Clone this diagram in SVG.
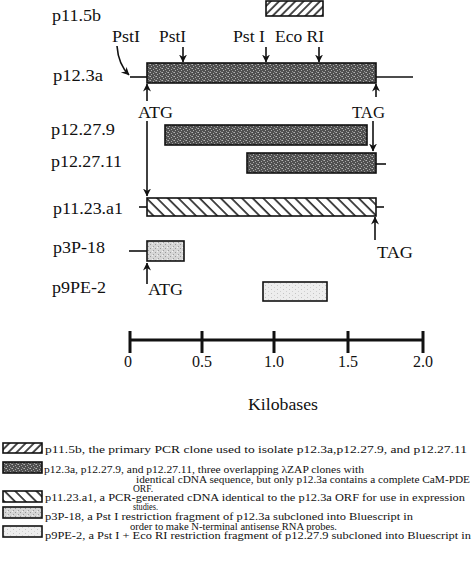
<svg xmlns="http://www.w3.org/2000/svg" width="474" height="572" viewBox="0 0 474 572">
<style>
.lbl{font-family:"Liberation Serif","Times New Roman",serif;font-size:16px;fill:#111}
.leg{font-family:"Liberation Serif","Times New Roman",serif;font-size:9.5px;fill:#111}
.bar{stroke:#111;stroke-width:1.6}
.ln{stroke:#111;stroke-width:1.6;fill:none}
.ax{stroke:#111;stroke-width:3;fill:none}
</style>
<defs>
<pattern id="dark" width="6" height="4" patternUnits="userSpaceOnUse">
<rect width="6" height="4" fill="#505050"/>
<rect x="0" y="0" width="1" height="1" fill="#b5b5b5"/>
<rect x="3" y="1" width="1" height="1" fill="#a5a5a5"/>
<rect x="4" y="3" width="1" height="1" fill="#9a9a9a"/>
<rect x="1" y="2" width="1" height="1" fill="#aaaaaa"/>
<rect x="5" y="0" width="1" height="1" fill="#8a8a8a"/>
</pattern>
<pattern id="light" width="5" height="4" patternUnits="userSpaceOnUse">
<rect width="5" height="4" fill="#d6d6d6"/>
<rect x="0" y="0" width="1" height="1" fill="#999"/>
<rect x="3" y="2" width="1" height="1" fill="#a0a0a0"/>
<rect x="2" y="3" width="1" height="1" fill="#f2f2f2"/>
</pattern>
<pattern id="vlight" width="6" height="4" patternUnits="userSpaceOnUse">
<rect width="6" height="4" fill="#ededed"/>
<rect x="1" y="1" width="1" height="1" fill="#c4c4c4"/>
<rect x="4" y="3" width="1" height="1" fill="#cfcfcf"/>
</pattern>
<pattern id="fwd" width="5.8" height="10" patternUnits="userSpaceOnUse" patternTransform="rotate(45)">
<rect width="5.8" height="10" fill="#fff"/>
<line x1="1" y1="0" x2="1" y2="10" stroke="#111" stroke-width="1.5"/>
</pattern>
<pattern id="back" width="7.5" height="10" patternUnits="userSpaceOnUse" patternTransform="rotate(-45)">
<rect width="7.5" height="10" fill="#fff"/>
<line x1="1" y1="0" x2="1" y2="10" stroke="#111" stroke-width="1.5"/>
</pattern>
<marker id="ah" markerWidth="8" markerHeight="10" refX="7.5" refY="4" orient="auto" markerUnits="userSpaceOnUse">
<path d="M0,0 L8,4 L0,8 L2.5,4 Z" fill="#111"/>
</marker>
</defs>

<g id="connectors">
<path class="ln" d="M117,46 C118,60 122,68 129,75" stroke-width="2.6" marker-end="url(#ah)"/>
<line class="ln" x1="183" y1="47" x2="183" y2="62" marker-end="url(#ah)"/>
<line class="ln" x1="266" y1="47" x2="266" y2="62" marker-end="url(#ah)"/>
<line class="ln" x1="319" y1="47" x2="319" y2="62" marker-end="url(#ah)"/>
<line class="ln" x1="147" y1="101" x2="147" y2="84" marker-end="url(#ah)"/>
<line class="ln" x1="376" y1="97" x2="376" y2="84" marker-end="url(#ah)"/>
<line class="ln" x1="147" y1="121" x2="147" y2="196" marker-end="url(#ah)"/>
<line class="ln" x1="373" y1="121" x2="373" y2="151" marker-end="url(#ah)"/>
<line class="ln" x1="375" y1="240" x2="375" y2="217" marker-end="url(#ah)"/>
<line class="ln" x1="147" y1="284" x2="147" y2="263" marker-end="url(#ah)"/>
</g>

<g id="p11-5b">
<text class="lbl" x="52" y="21" textLength="49" lengthAdjust="spacingAndGlyphs">p11.5b</text>
<rect class="bar" x="266" y="1" width="57" height="15" fill="url(#fwd)"/>
</g>

<g id="sites">
<text class="lbl" x="112" y="42" textLength="28" lengthAdjust="spacingAndGlyphs">PstI</text>
<text class="lbl" x="159" y="42" textLength="27" lengthAdjust="spacingAndGlyphs">PstI</text>
<text class="lbl" x="233" y="42" textLength="32" lengthAdjust="spacingAndGlyphs">Pst I</text>
<text class="lbl" x="275" y="42" textLength="49" lengthAdjust="spacingAndGlyphs">Eco RI</text>
</g>

<g id="p12-3a">
<text class="lbl" x="53" y="81" textLength="50" lengthAdjust="spacingAndGlyphs">p12.3a</text>
<line class="ln" x1="130" y1="77" x2="147" y2="77"/>
<line class="ln" x1="376" y1="77" x2="413" y2="77"/>
<rect class="bar" x="147" y="63" width="229" height="20" fill="url(#dark)"/>
<text class="lbl" x="138" y="118" textLength="35" lengthAdjust="spacingAndGlyphs">ATG</text>
<text class="lbl" x="352" y="118" textLength="33" lengthAdjust="spacingAndGlyphs">TAG</text>
</g>

<g id="p12-27-9">
<text class="lbl" x="51" y="135" textLength="64" lengthAdjust="spacingAndGlyphs">p12.27.9</text>
<rect class="bar" x="165" y="125" width="202" height="20" fill="url(#dark)"/>
</g>

<g id="p12-27-11">
<text class="lbl" x="51" y="167" textLength="71" lengthAdjust="spacingAndGlyphs">p12.27.11</text>
<rect class="bar" x="247" y="153" width="129" height="20" fill="url(#dark)"/>
<line class="ln" x1="376" y1="164" x2="386" y2="164"/>
</g>

<g id="p11-23-a1">
<text class="lbl" x="53" y="214" textLength="70" lengthAdjust="spacingAndGlyphs">p11.23.a1</text>
<line class="ln" x1="139" y1="207" x2="147" y2="207"/>
<line class="ln" x1="376" y1="207" x2="384" y2="207"/>
<rect class="bar" x="147" y="198" width="229" height="18" fill="url(#back)"/>
<text class="lbl" x="377" y="258" textLength="36" lengthAdjust="spacingAndGlyphs">TAG</text>
</g>

<g id="p3P-18">
<text class="lbl" x="53" y="253" textLength="52" lengthAdjust="spacingAndGlyphs">p3P-18</text>
<line class="ln" x1="129" y1="251" x2="147" y2="251"/>
<rect class="bar" x="147" y="241" width="37" height="20" fill="url(#light)"/>
<text class="lbl" x="148" y="295" textLength="35" lengthAdjust="spacingAndGlyphs">ATG</text>
</g>

<g id="p9PE-2">
<text class="lbl" x="52" y="293" textLength="54" lengthAdjust="spacingAndGlyphs">p9PE-2</text>
<rect class="bar" x="263" y="282" width="64" height="19" fill="url(#vlight)"/>
</g>

<g id="axis">
<line class="ax" x1="130" y1="340" x2="423" y2="340"/>
<line class="ax" x1="130" y1="331" x2="130" y2="353" stroke-width="3.5"/>
<line class="ax" x1="202" y1="331" x2="202" y2="353" stroke-width="3.5"/>
<line class="ax" x1="274" y1="331" x2="274" y2="353" stroke-width="3.5"/>
<line class="ax" x1="348" y1="331" x2="348" y2="353" stroke-width="3.5"/>
<line class="ax" x1="423" y1="331" x2="423" y2="353" stroke-width="3.5"/>
<text class="lbl" x="124" y="367">0</text>
<text class="lbl" x="202" y="367" text-anchor="middle">0.5</text>
<text class="lbl" x="274" y="367" text-anchor="middle">1.0</text>
<text class="lbl" x="348" y="367" text-anchor="middle">1.5</text>
<text class="lbl" x="423" y="367" text-anchor="middle">2.0</text>
<text class="lbl" x="248" y="410" textLength="70" lengthAdjust="spacingAndGlyphs" font-size="17">Kilobases</text>
</g>

<g id="legend">
<rect class="bar" x="3" y="443" width="39" height="10" fill="url(#fwd)"/>
<text class="leg" x="45" y="453" textLength="422" lengthAdjust="spacingAndGlyphs">p11.5b,  the primary PCR clone used to isolate p12.3a,p12.27.9, and p12.27.11</text>
<rect class="bar" x="3" y="462" width="39" height="11" fill="url(#dark)"/>
<text class="leg" x="44" y="473" textLength="320" lengthAdjust="spacingAndGlyphs">p12.3a, p12.27.9, and p12.27.11,  three overlapping  λZAP clones  with</text>
<text class="leg" x="136" y="483" textLength="334" lengthAdjust="spacingAndGlyphs">identical  cDNA sequence,  but only p12.3a contains a complete CaM-PDE</text>
<text class="leg" x="133" y="492">ORF.</text>
<rect class="bar" x="3" y="491" width="39" height="11" fill="url(#back)"/>
<text class="leg" x="45" y="501" textLength="420" lengthAdjust="spacingAndGlyphs">p11.23.a1,  a PCR-generated cDNA identical to the p12.3a ORF for use in expression</text>
<text class="leg" x="133" y="510" textLength="25" lengthAdjust="spacingAndGlyphs">studies.</text>
<rect class="bar" x="3" y="507" width="39" height="11" fill="url(#light)"/>
<text class="leg" x="45" y="520" textLength="368" lengthAdjust="spacingAndGlyphs">p3P-18,  a Pst I restriction fragment of p12.3a subcloned into Bluescript  in</text>
<text class="leg" x="130" y="529.5" textLength="207" lengthAdjust="spacingAndGlyphs">order  to  make N-terminal antisense RNA probes.</text>
<rect class="bar" x="3" y="526" width="39" height="11" fill="url(#vlight)"/>
<text class="leg" x="45" y="539" textLength="426" lengthAdjust="spacingAndGlyphs">p9PE-2, a Pst I + Eco RI restriction fragment of p12.27.9  subcloned into  Bluescript in</text>
</g>
</svg>
